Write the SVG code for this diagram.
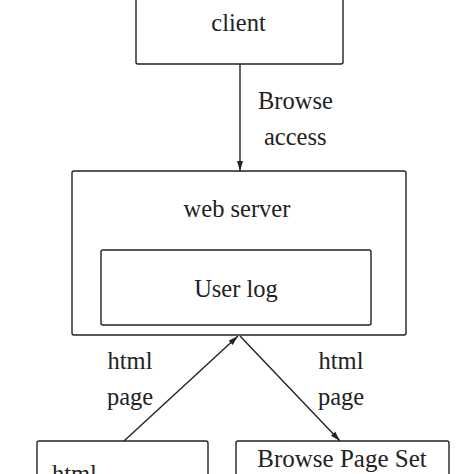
<svg xmlns="http://www.w3.org/2000/svg" width="474" height="474" viewBox="0 0 474 474">
<style>
.box{fill:#fff;stroke:#222;stroke-width:1.4}
.t{font-family:"Liberation Serif","Times New Roman",serif;font-size:24.5px;fill:#222}
.c{text-anchor:middle}
.ln{stroke:#222;stroke-width:1.4;fill:none}
</style>
<defs>
<marker id="ah" viewBox="0 0 10 6" refX="10" refY="3" markerWidth="10" markerHeight="6" markerUnits="userSpaceOnUse" orient="auto">
<path d="M0,0 L10,3 L0,6 Z" fill="#222"/>
</marker>
</defs>
<rect width="474" height="474" fill="#fff"/>
<g id="client">
<rect class="box" x="136" y="-6" width="207" height="70" rx="2"/>
<text class="t c" x="238.5" y="31">client</text>
</g>
<g id="webserver">
<rect class="box" x="72" y="171" width="334" height="164" rx="2"/>
<text class="t c" x="237" y="217">web server</text>
</g>
<g id="userlog">
<rect class="box" x="101" y="250" width="270" height="75" rx="2"/>
<text class="t c" x="236" y="297">User log</text>
</g>
<g id="htmlbox">
<rect class="box" x="37" y="441" width="171" height="40" rx="2"/>
<text class="t" x="52" y="482">html</text>
</g>
<g id="browsepageset">
<rect class="box" x="236" y="441" width="213" height="40" rx="2"/>
<text class="t c" x="342" y="467" style="font-size:25px">Browse Page Set</text>
</g>
<g id="connectors">
<line class="ln" x1="240" y1="64" x2="240" y2="171" marker-end="url(#ah)"/>
<line class="ln" x1="124" y1="441" x2="238" y2="336" marker-end="url(#ah)"/>
<line class="ln" x1="240" y1="336" x2="340" y2="441" marker-end="url(#ah)"/>
<text class="t" x="258" y="109">Browse</text>
<text class="t" x="264" y="145">access</text>
<text class="t c" x="130" y="369">html</text>
<text class="t c" x="130" y="405">page</text>
<text class="t c" x="341" y="369">html</text>
<text class="t c" x="341" y="405">page</text>
</g>
</svg>
